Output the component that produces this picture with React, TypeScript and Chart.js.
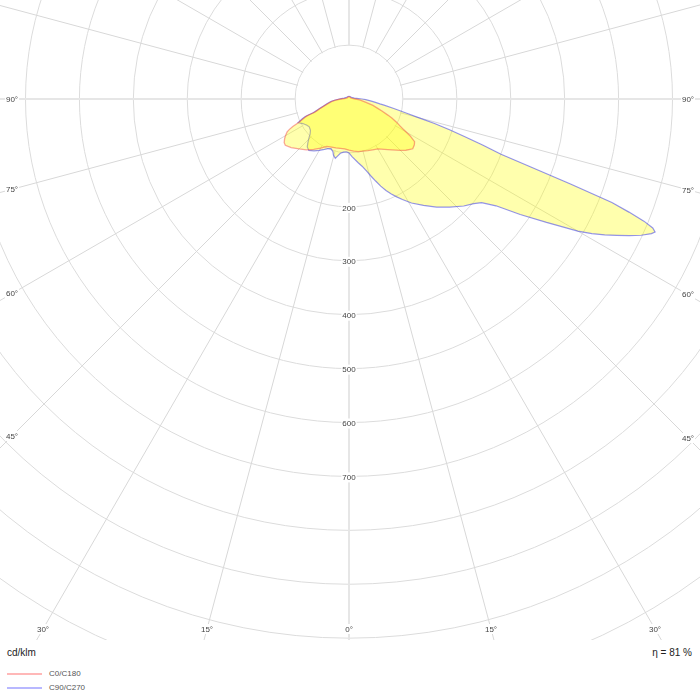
import React, { useEffect, useRef } from 'react';
import { Chart, registerables, Plugin } from 'chart.js';

Chart.register(...registerables);

// gamma is counted from the nadir, half a degree per radar label
const STEPS_PER_DEG = 2;
const angleLabels: string[] = Array.from({ length: 360 * STEPS_PER_DEG }, (_, i) => `${i / STEPS_PER_DEG}°`);

const ringValues = [200, 300, 400, 500, 600, 700];
const sideAngles = [90, 75, 60, 45];
const bottomAngles = [30, 15, 0];
const unitLabel = 'cd/klm';
const efficiencyLabel = 'η = 81 %';

// C0 plane (right half), cd/klm
const c0Gamma = [0, 5, 10, 15, 20, 25, 30, 35, 40, 45, 48, 52, 55, 57, 59, 61, 62, 64, 66, 67.5, 70, 72, 75, 79, 85, 90, 95, 100, 120, 140, 160, 180];
const c0Values = [95, 97, 99, 100, 102, 104, 107, 114, 123, 135, 142, 150, 148, 145, 132, 114, 108, 98, 87, 78, 65, 56, 46, 31, 20, 12, 8, 6, 4, 4, 4, 4];

// C180 plane (left half)
const c180Gamma = [5, 10, 15, 20, 25, 30, 35, 40, 45, 50, 54, 56, 58.5, 60, 62, 63, 64, 65, 66, 67, 68, 68.5, 69, 70, 72, 75, 78, 82, 85, 90, 95, 100, 120, 140, 160];
const c180Values = [93, 93, 94, 95, 97, 105, 114, 123, 131, 140, 146, 145, 140, 136, 130, 124, 116, 103, 96, 91, 85, 77, 68, 63, 56, 46, 39, 32, 25, 15, 9, 6, 4, 4, 4];

// C90 plane (right half)
const c90Gamma = [0, 3, 8, 11, 14, 16, 18, 20, 22, 24, 26, 28, 31, 35, 39, 43, 47, 50, 52, 54, 56, 58, 60, 61, 62, 63, 64, 65, 66, 66.5, 67, 67.5, 68, 68.5, 69, 69.5, 70, 71, 72, 73, 74, 75, 76, 77, 78, 80, 81, 83, 85, 88, 90, 95, 100, 120, 140, 160, 180];
const c90Values = [100, 107, 119, 127, 139, 149, 160, 172, 183, 193, 202, 211, 225, 241, 258, 274, 291, 302, 312, 337, 383, 432, 490, 515, 537, 557, 578, 598, 614, 619, 612, 592, 560, 524, 440, 360, 300, 262, 225, 195, 165, 132, 113, 97, 85, 66, 58, 48, 40, 31, 24, 14, 10, 6, 5, 5, 5];

// C270 plane (left half)
const c270Gamma = [3, 6, 9, 11, 13, 15.5, 17, 20, 23, 26, 30, 34, 38, 41, 43, 45, 48, 51, 55, 58, 62, 65, 66, 67, 68, 68.5, 69, 70, 72, 75, 78, 82, 85, 90, 95, 100, 120, 140, 160];
const c270Values = [98, 99, 102, 107, 113, 108, 102, 98, 100, 104, 110, 116, 121, 118, 112, 106, 97, 92, 90, 92, 97, 104, 99, 94, 88, 80, 71, 66, 58, 48, 41, 34, 27, 18, 12, 9, 6, 5, 5];

// view geometry
const VIEW_W = 700;
const PLOT_H = 640;
const CENTER_X = 349;
const CENTER_Y = 99;
const CANVAS_SIZE = 1294;
const LABEL_LEFT = 12;
const LABEL_RIGHT = 688;
const LABEL_BOTTOM = 629;

const FONT = '"Liberation Sans", Arial, sans-serif';
const FILL = 'rgba(255, 255, 0, 0.32)';
const RED_LINE = 'rgba(240, 60, 60, 0.45)';
const BLUE_LINE = 'rgba(60, 60, 230, 0.55)';

const buildSeries = (rightGamma: number[], rightValues: number[], leftGamma: number[], leftValues: number[]) => {
    const n = angleLabels.length;
    const out: (number | null)[] = new Array(n).fill(null);
    leftGamma.forEach((g, i) => {
        out[Math.round(g * STEPS_PER_DEG) % n] = leftValues[i];
    });
    rightGamma.forEach((g, i) => {
        out[(n - Math.round(g * STEPS_PER_DEG)) % n] = rightValues[i];
    });
    return out;
};

// where a spoke meets the label frame, relative to the centre
const labelOffset = (gamma: number, side: number) => {
    const rad = (gamma * Math.PI) / 180;
    const sx = Math.sin(rad);
    const cy = Math.cos(rad);
    const tx = sx > 1e-6 ? (side < 0 ? CENTER_X - LABEL_LEFT : LABEL_RIGHT - CENTER_X) / sx : Infinity;
    const ty = cy > 1e-6 ? (LABEL_BOTTOM - CENTER_Y) / cy : Infinity;
    const t = Math.min(tx, ty);
    return { x: side * sx * t, y: cy * t };
};

const overlayPlugin: Plugin<'radar'> = {
    id: 'photometricOverlay',
    beforeDatasetsDraw(chart) {
        const scale = chart.scales.r as any;
        const ctx = chart.ctx;
        const cx = scale.xCenter;
        const cy = scale.yCenter;
        ctx.save();

        // empty inner disk (spokes start at the 100 ring)
        ctx.fillStyle = '#ffffff';
        ctx.beginPath();
        ctx.arc(cx, cy, scale.getDistanceFromCenterForValue(100) - 1, 0, Math.PI * 2);
        ctx.fill();

        ctx.font = `8px ${FONT}`;
        ctx.textAlign = 'center';
        ctx.textBaseline = 'middle';

        const drawLabel = (text: string, x: number, y: number) => {
            const w = ctx.measureText(text).width;
            ctx.fillStyle = '#ffffff';
            ctx.fillRect(x - w / 2 - 1, y - 5, w + 2, 10);
            ctx.fillStyle = '#444444';
            ctx.fillText(text, x, y + 0.5);
        };

        ringValues.forEach(v => {
            drawLabel(String(v), cx, cy + scale.getDistanceFromCenterForValue(v) + 1);
        });

        const gammas = [...sideAngles, ...bottomAngles];
        gammas.forEach(g => {
            const sides = g === 0 ? [1] : [-1, 1];
            sides.forEach(side => {
                const o = labelOffset(g, side);
                drawLabel(`${g}°`, cx + o.x, cy + o.y);
            });
        });
        ctx.restore();
    },
};

const App: React.FC = () => {
    const canvasRef = useRef<HTMLCanvasElement>(null);

    useEffect(() => {
        if (!canvasRef.current) return;
        const spoke = 15 * STEPS_PER_DEG;
        const axis = 90 * STEPS_PER_DEG;

        const chart = new Chart(canvasRef.current, {
            type: 'radar',
            data: {
                labels: angleLabels,
                datasets: [
                    {
                        label: 'C0/C180',
                        data: buildSeries(c0Gamma, c0Values, c180Gamma, c180Values),
                        borderColor: RED_LINE,
                        backgroundColor: FILL,
                        borderWidth: 1.3,
                        fill: 'origin',
                        spanGaps: true,
                        pointRadius: 0,
                        pointHitRadius: 0,
                    },
                    {
                        label: 'C90/C270',
                        data: buildSeries(c90Gamma, c90Values, c270Gamma, c270Values),
                        borderColor: BLUE_LINE,
                        backgroundColor: FILL,
                        borderWidth: 1.2,
                        fill: 'origin',
                        spanGaps: true,
                        pointRadius: 0,
                        pointHitRadius: 0,
                    },
                ],
            },
            options: {
                responsive: false,
                animation: false,
                events: [],
                layout: { padding: 0 },
                plugins: {
                    legend: { display: false },
                    tooltip: { enabled: false },
                },
                scales: {
                    r: {
                        min: 0,
                        max: 1200,
                        startAngle: 180,
                        ticks: { display: false, stepSize: 100 },
                        grid: { circular: true, color: '#dcdcdc', lineWidth: 1 },
                        angleLines: {
                            color: (c: any) => (c.index % axis === 0 ? '#e6e6e6' : '#d8d8d8'),
                            lineWidth: (c: any) => (c.index % spoke !== 0 ? 0 : c.index % axis === 0 ? 2 : 1),
                        },
                        pointLabels: { display: false },
                    },
                },
            },
            plugins: [overlayPlugin],
        });

        return () => chart.destroy();
    }, []);

    const legendRow = (label: string, color: string, top: number) => (
        <div style={{ position: 'absolute', left: 7, top, height: 10, width: 120 }}>
            <div style={{ position: 'absolute', left: 0, top: 4, width: 35, height: 2, background: color }} />
            <span style={{ position: 'absolute', left: 42, top: 0, fontSize: 8, lineHeight: '10px', color: '#555' }}>{label}</span>
        </div>
    );

    return (
        <div style={{ position: 'absolute', left: 0, top: 0, width: VIEW_W, height: 700, background: '#fff', fontFamily: FONT }}>
            <div style={{ position: 'absolute', left: 0, top: 0, width: VIEW_W, height: PLOT_H, overflow: 'hidden' }}>
                <canvas
                    ref={canvasRef}
                    width={CANVAS_SIZE}
                    height={CANVAS_SIZE}
                    style={{
                        position: 'absolute',
                        left: CENTER_X - CANVAS_SIZE / 2,
                        top: CENTER_Y - CANVAS_SIZE / 2,
                        width: CANVAS_SIZE,
                        height: CANVAS_SIZE,
                    }}
                />
            </div>
            <div style={{ position: 'absolute', left: 7, top: 647, fontSize: 10, lineHeight: '12px', color: '#222' }}>{unitLabel}</div>
            <div style={{ position: 'absolute', right: 8, top: 647, fontSize: 10, lineHeight: '12px', color: '#222' }}>{efficiencyLabel}</div>
            {legendRow('C0/C180', 'rgba(255, 0, 0, 0.28)', 669)}
            {legendRow('C90/C270', 'rgba(0, 0, 255, 0.28)', 683)}
        </div>
    );
};

export default App;
